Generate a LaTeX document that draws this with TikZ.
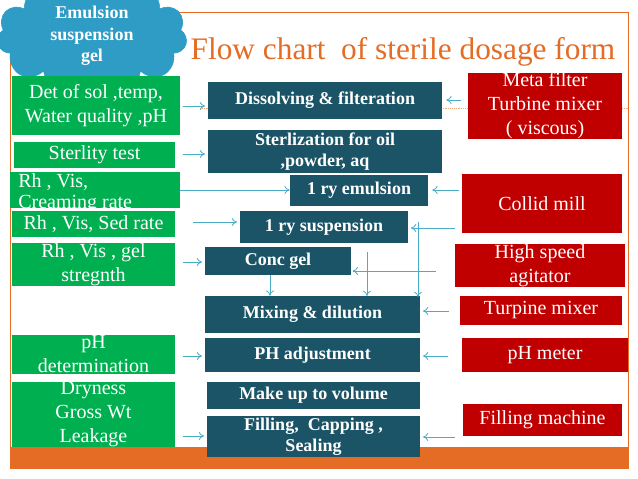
\documentclass[tikz,border=0pt]{standalone}
\usepackage{fontspec}
\setmainfont{Liberation Serif}
\usetikzlibrary{shapes.symbols,arrows.meta}
\definecolor{grn}{HTML}{00B050}
\definecolor{tealb}{HTML}{1B5466}
\definecolor{redb}{HTML}{C00000}
\definecolor{orng}{HTML}{E46C24}
\definecolor{arrc}{HTML}{4BACC6}
\definecolor{cloudc}{HTML}{2E9CC4}
\tikzset{
 gbox/.style={fill=grn,text=white,font=\fontsize{15}{18}\selectfont,align=center,inner sep=0pt},
 tbox/.style={fill=tealb,text=white,font=\fontsize{13.5}{16}\selectfont\bfseries,align=center,inner sep=0pt},
 rbox/.style={fill=redb,text=white,font=\fontsize{15}{18}\selectfont,align=center,inner sep=0pt},
 arr/.style={draw=arrc,line width=0.6pt,-{To[length=4pt,width=6pt]}},
}
\newcommand\bx[7]{\node[#2,minimum width={(#5-#3)*0.75pt},minimum height={(#6-#4)*0.75pt}] (#1) at ({(#3+#5)/2},{(#4+#6)/2}) {#7};}
\newcommand\harr[5]{\coordinate (tmpy) at (0,#5);\draw[arr] ([xshift=#3]#1 |- tmpy) -- ([xshift=#4]#2 |- tmpy);}
\begin{document}
\begin{tikzpicture}[x=0.75pt,y=-0.75pt]
\useasboundingbox (0,0) rectangle (638,478);
\fill[white] (0,0) rectangle (638,478);
\draw[orng,line width=0.5pt] (10,12) rectangle (628,468);
\fill[orng] (10,447) rectangle (628,468);
\draw[orng!60,densely dotted] (200,108) -- (628,108);
\draw[orng,line width=0.8pt] (310,108) arc (180:0:10);
\node[text=orng,font=\fontsize{23.5}{26}\selectfont] (title) at (403,52) {Flow chart\ \ of sterile dosage form};
\node[cloud,cloud puffs=11,aspect=2.1,fill=cloudc,draw=cloudc,minimum width=190*0.75pt,minimum height=100*0.75pt,text=white,font=\fontsize{13.5}{16}\selectfont\bfseries,align=center,inner sep=0pt] (cl) at (92,36) {Emulsion\\suspension\\gel};
% green
\bx{G1}{gbox}{12}{76}{180}{135}{Det of sol ,temp,\\Water quality ,pH}
\bx{G2}{gbox}{14}{142}{175}{168}{Sterlity test}
\bx{G3}{gbox}{10}{172}{180}{208}{}
\node[text=white,font=\fontsize{15}{16}\selectfont,align=left,anchor=north west,inner sep=0pt] (G3t) at (18,173) {Rh , Vis,\\Creaming rate};
\bx{G4}{gbox}{12}{211}{175}{237}{Rh , Vis, Sed rate}
\bx{G5}{gbox}{12}{243}{175}{286}{Rh , Vis , gel\\stregnth}
\bx{G6}{gbox}{12}{335}{175}{374}{pH\\determination}
\bx{G7}{gbox}{12}{382}{175}{447}{Dryness\\Gross Wt\\Leakage}
% teal
\bx{D1}{tbox}{208}{82}{442}{119}{Dissolving \& filteration}
\bx{D2}{tbox}{208}{130}{442}{173}{Sterlization for oil\\,powder, aq}
\bx{D3}{tbox}{290}{175}{428}{206}{1 ry emulsion}
\bx{D4}{tbox}{240}{211}{408}{243}{1 ry suspension}
\bx{D5}{tbox}{205}{247}{351}{275}{Conc gel}
\bx{D6}{tbox}{205}{296}{420}{333}{Mixing \& dilution}
\bx{D7}{tbox}{205}{338}{420}{372}{PH adjustment}
\bx{D8}{tbox}{207}{382}{420}{409}{Make up to volume}
\bx{D9}{tbox}{207}{416}{420}{457}{Filling,\ \ Capping ,\\Sealing}
% red
\bx{R1}{rbox}{468}{76}{622}{136}{Meta filter\\Turbine mixer\\( viscous)}
\bx{R2}{rbox}{462}{174}{622}{233}{Collid mill}
\bx{R3}{rbox}{455}{244}{625}{287}{High speed\\agitator}
\bx{R4}{rbox}{460}{296}{622}{325}{Turpine mixer}
\bx{R5}{rbox}{462}{338}{628}{372}{pH meter}
\bx{R6}{rbox}{463}{404}{622}{436}{Filling machine}
% arrows left
\harr{G1.east}{D1.west}{2}{-2}{106}
\harr{G2.east}{D2.west}{6}{-2}{154}
\harr{G3.east}{D3.west}{0}{0}{190}
\harr{G4.east}{D4.west}{13}{-2}{222}
\harr{G5.east}{D5.west}{6}{-2}{262}
\harr{G6.east}{D7.west}{6}{-2}{356}
\harr{G7.east}{D9.west}{6}{-2}{436}
% arrows right
\harr{R1.west}{D1.east}{-5}{3}{100}
\harr{R2.west}{D3.east}{-2}{3}{190}
\harr{R3.west}{D4.east}{0}{2}{228}
\draw[arr] (418,222) -- (418,297);
\harr{R3.west}{D5.east}{-14}{1}{271}
\harr{R4.west}{D6.east}{-8}{2}{311}
\harr{R5.west}{D7.east}{-10}{2}{356}
\harr{R6.west}{D9.east}{-6}{2}{437}
% down arrows
\draw[arr] ([xshift=-6]D5.south) -- ([xshift=-6]D5.south |- D6.north);
\draw[arr] (367,252) -- (367,296);
\end{tikzpicture}
\end{document}
